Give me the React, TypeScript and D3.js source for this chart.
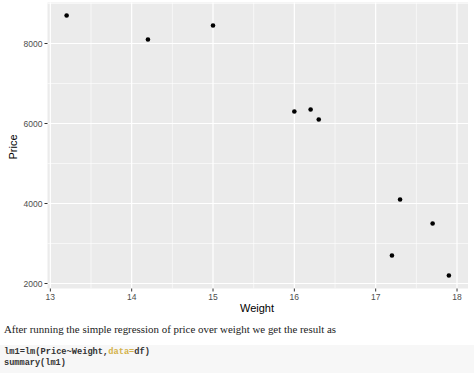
import React from "react";
import * as d3 from "d3";

const weights = [13.2, 14.2, 15.0, 16.0, 16.2, 16.3, 17.3, 17.7, 17.2, 17.9];
const prices = [8700, 8100, 8450, 6300, 6350, 6100, 4100, 3500, 2700, 2200];
const xTicks = [13, 14, 15, 16, 17, 18];
const xMinor = [13.5, 14.5, 15.5, 16.5, 17.5];
const yTicks = [2000, 4000, 6000, 8000];
const yMinor = [3000, 5000, 7000, 9000];
const sentence = "After running the simple regression of price over weight we get the result as";

const W = 474, H = 379;
const panel = { left: 47.5, right: 468, top: 2.5, bottom: 288.5 };

export default function App() {
  const xe = d3.extent(weights) as [number, number];
  const ye = d3.extent(prices) as [number, number];
  const xp = (xe[1] - xe[0]) * 0.05;
  const yp = (ye[1] - ye[0]) * 0.05;
  const x = d3.scaleLinear().domain([xe[0] - xp, xe[1] + xp]).range([panel.left, panel.right]);
  const y = d3.scaleLinear().domain([ye[0] - yp, ye[1] + yp]).range([panel.bottom, panel.top]);
  const font = "'Liberation Sans', Arial, sans-serif";
  const mono = "'Liberation Mono', 'DejaVu Sans Mono', monospace";
  return (
    <svg width={W} height={H} style={{ position: "absolute", left: 0, top: 0, background: "#fff" }}>
      <rect x={panel.left} y={panel.top} width={panel.right - panel.left} height={panel.bottom - panel.top} fill="#ebebeb" />
      {xMinor.map((v) => (
        <line key={"xm" + v} x1={x(v)} x2={x(v)} y1={panel.top} y2={panel.bottom} stroke="#fff" strokeWidth={0.6} />
      ))}
      {yMinor.filter((v) => y(v) >= panel.top).map((v) => (
        <line key={"ym" + v} x1={panel.left} x2={panel.right} y1={y(v)} y2={y(v)} stroke="#fff" strokeWidth={0.6} />
      ))}
      {xTicks.map((v) => (
        <line key={"xg" + v} x1={x(v)} x2={x(v)} y1={panel.top} y2={panel.bottom} stroke="#fff" strokeWidth={1.2} />
      ))}
      {yTicks.map((v) => (
        <line key={"yg" + v} x1={panel.left} x2={panel.right} y1={y(v)} y2={y(v)} stroke="#fff" strokeWidth={1.2} />
      ))}
      {weights.map((w, i) => (
        <circle key={i} cx={x(w)} cy={y(prices[i])} r={2.3} fill="#000" />
      ))}
      {xTicks.map((v) => (
        <g key={"xt" + v}>
          <line x1={x(v)} x2={x(v)} y1={panel.bottom} y2={panel.bottom + 3} stroke="#333" strokeWidth={1} />
          <text x={x(v)} y={panel.bottom + 11} textAnchor="middle" fontSize={8.5} fill="#4d4d4d" fontFamily={font}>{v}</text>
        </g>
      ))}
      {yTicks.map((v) => (
        <g key={"yt" + v}>
          <line x1={panel.left - 3} x2={panel.left} y1={y(v)} y2={y(v)} stroke="#333" strokeWidth={1} />
          <text x={panel.left - 5} y={y(v) + 3} textAnchor="end" fontSize={8.5} fill="#4d4d4d" fontFamily={font}>{v}</text>
        </g>
      ))}
      <text x={257} y={312} textAnchor="middle" fontSize={11} fill="#000" fontFamily={font}>Weight</text>
      <text transform="translate(17,147) rotate(-90)" textAnchor="middle" fontSize={11} fill="#000" fontFamily={font}>Price</text>
      <text x={4} y={333} fontSize={11} fill="#222" fontFamily="'Liberation Serif', 'DejaVu Serif', serif" textLength={332} lengthAdjust="spacingAndGlyphs">{sentence}</text>
      <rect x={0} y={345} width={W} height={28} fill="#f7f7f7" />
      <text x={4} y={354} fontSize={8.6} fill="#333" fontWeight="bold" fontFamily={mono} textLength={146} lengthAdjust="spacingAndGlyphs">
        <tspan>lm1=lm(Price~Weight,</tspan>
        <tspan fill="#d4b24a">data=</tspan>
        <tspan>df)</tspan>
      </text>
      <text x={4} y={365} fontSize={8.6} fill="#333" fontWeight="bold" fontFamily={mono}>summary(lm1)</text>
    </svg>
  );
}
